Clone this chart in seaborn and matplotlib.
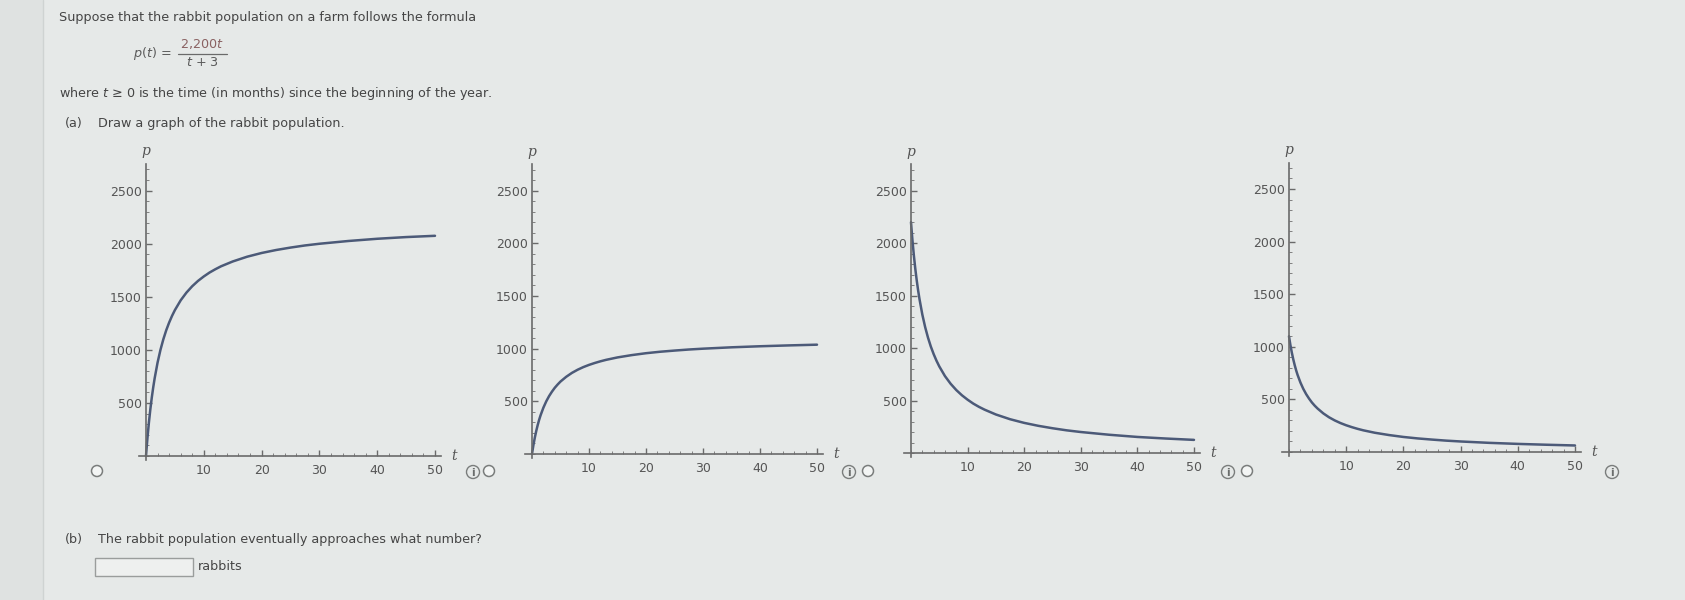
import numpy as np
import pandas as pd
import seaborn as sns
import matplotlib
matplotlib.use("Agg")
import matplotlib.pyplot as plt
from matplotlib.patches import Circle, Rectangle
from matplotlib.transforms import IdentityTransform
from matplotlib.ticker import MultipleLocator

# ---- data ----
t_vals = [0, 0.1, 0.25, 0.5, 0.75, 1, 1.25, 1.5, 2, 2.5, 3, 3.5, 4, 4.5, 5, 6, 7, 8, 9, 10,
          11, 12, 13, 15, 17.5, 20, 22.5, 25, 27.5, 30, 35, 40, 45, 50]
p_graph1 = [0, 71, 169, 314, 440, 550, 647, 733, 880, 1000, 1100, 1185, 1257, 1320, 1375,
            1467, 1540, 1600, 1650, 1692, 1729, 1760, 1788, 1833, 1878, 1913, 1941, 1964,
            1984, 2000, 2026, 2047, 2063, 2075]
p_graph2 = [0, 35, 85, 157, 220, 275, 324, 367, 440, 500, 550, 592, 629, 660, 688, 733, 770,
            800, 825, 846, 864, 880, 894, 917, 939, 957, 971, 982, 992, 1000, 1013, 1023,
            1031, 1038]
p_graph3 = [2200, 2129, 2031, 1886, 1760, 1650, 1553, 1467, 1320, 1200, 1100, 1015, 943, 880,
            825, 733, 660, 600, 550, 508, 471, 440, 413, 367, 322, 287, 259, 236, 216, 200,
            174, 153, 138, 125]
p_graph4 = [1100, 1065, 1015, 943, 880, 825, 776, 733, 660, 600, 550, 508, 471, 440, 413,
            367, 330, 300, 275, 254, 236, 220, 206, 183, 161, 143, 129, 118, 108, 100, 87,
            77, 69, 62]
x_ticks = [10, 20, 30, 40, 50]
y_ticks = [500, 1000, 1500, 2000, 2500]
series = [p_graph1, p_graph2, p_graph3, p_graph4]

W, H = 1685, 600
BG = "#e6e9e8"
TXT = "#454545"
AX = "#6a6a6a"
LINE = "#4c5a78"
FS = 9.2

sns.set_theme(style="white")
plt.rcParams["font.family"] = ["DejaVu Sans"]
plt.rcParams["mathtext.fontset"] = "dejavusans"

fig = plt.figure(figsize=(W / 100, H / 100), dpi=100, facecolor=BG)

# left darker strip (page margin in photo)
fig.add_artist(Rectangle((0, 0), 43, H, transform=IdentityTransform(),
                         facecolor="#dfe2e1", edgecolor="none", zorder=0))
fig.add_artist(plt.Line2D([43, 43], [0, H], transform=IdentityTransform(),
                          color="#cfd3d2", lw=1, zorder=0))

def px(x, y):
    return x / W, 1 - y / H

# question text
fig.text(*px(59, 18), "Suppose that the rabbit population on a farm follows the formula",
         fontsize=FS, color=TXT, va="center", ha="left")
fig.text(*px(133, 54), "$p(t)$ =", fontsize=FS, color="#5a5a5a", va="center", ha="left")
fig.text(*px(202, 44), "2,200$t$", fontsize=FS, color="#8a6262", va="center", ha="center")
fig.text(*px(202, 63), "$t$ + 3", fontsize=FS, color="#5a5a5a", va="center", ha="center")
fig.add_artist(plt.Line2D([178 / W, 227 / W], [1 - 53.5 / H, 1 - 53.5 / H],
                          color="#6a6a6a", lw=0.9))
fig.text(*px(59, 93), "where $t$ ≥ 0 is the time (in months) since the beginning of the year.",
         fontsize=FS, color=TXT, va="center", ha="left")
fig.text(*px(65, 123), "(a)", fontsize=FS, color=TXT, va="center", ha="left")
fig.text(*px(98, 123), "Draw a graph of the rabbit population.", fontsize=FS, color=TXT,
         va="center", ha="left")
fig.text(*px(65, 540), "(b)", fontsize=FS, color=TXT, va="center", ha="left")
fig.text(*px(98, 540), "The rabbit population eventually approaches what number?",
         fontsize=FS, color=TXT, va="center", ha="left")
fig.add_artist(Rectangle((95, H - 576), 98, 18, transform=IdentityTransform(),
                         facecolor="#eef0ef", edgecolor="#9a9d9c", lw=1))
fig.text(*px(198, 566), "rabbits", fontsize=FS, color=TXT, va="center", ha="left")

# panel pixel geometry: (x at t=0, x at t=50, y at p=0, y at p=2500)
panels = [(146, 435, 456, 190.7), (532, 817, 454, 190.7),
          (911, 1194, 453, 190.7), (1289, 1575, 452, 189)]
XMIN, XMAX = -1.2, 51
YMIN, YMAX = -40, 2750

for (x0, x50, y0, y25), vals in zip(panels, series):
    sx = (x50 - x0) / 50.0
    sy = (y0 - y25) / 2500.0
    left = x0 + XMIN * sx
    right = x0 + XMAX * sx
    top = y0 - YMAX * sy
    bot = y0 - YMIN * sy
    ax = fig.add_axes([left / W, (H - bot) / H, (right - left) / W, (bot - top) / H])
    ax.set_facecolor("none")
    df = pd.DataFrame({"t": t_vals, "p": vals})
    sns.lineplot(data=df, x="t", y="p", ax=ax, color=LINE, lw=1.8, sort=False,
                 estimator=None)
    ax.set_xlim(XMIN, XMAX)
    ax.set_ylim(YMIN, YMAX)
    for s in ["top", "right"]:
        ax.spines[s].set_visible(False)
    ax.spines["left"].set_position(("data", 0))
    ax.spines["bottom"].set_position(("data", 0))
    for s in ["left", "bottom"]:
        ax.spines[s].set_color(AX)
        ax.spines[s].set_linewidth(1.2)
    ax.set_xticks(x_ticks)
    ax.set_yticks(y_ticks)
    ax.xaxis.set_minor_locator(MultipleLocator(2))
    ax.yaxis.set_minor_locator(MultipleLocator(100))
    ax.tick_params(axis="both", which="both", bottom=True, left=True, top=False,
                   right=False)
    ax.tick_params(axis="both", which="major", direction="in", length=4.5, width=1,
                   color=AX, labelcolor="#555555", labelsize=9)
    ax.tick_params(axis="both", which="minor", direction="in", length=2.0, width=0.7,
                   color="#808080")
    ax.tick_params(axis="x", which="major", pad=6)
    ax.tick_params(axis="y", which="major", pad=3)
    ax.set_xlabel("")
    ax.set_ylabel("")
    ax.text(0, 2870, "p", fontsize=10, fontfamily="DejaVu Serif", style="italic",
            color="#555555", ha="center", va="center", clip_on=False)
    ax.text(53.3, 0, "t", fontsize=10, fontfamily="DejaVu Serif", style="italic",
            color="#555555", ha="center", va="center", clip_on=False)

# radio buttons and info icons
radios = [(97, 471), (489, 471), (868, 471), (1247, 471)]
infos = [(473, 472), (849, 472), (1228, 472), (1612, 472)]
for (x, y) in radios:
    fig.add_artist(Circle((x, H - y), 5.5, transform=IdentityTransform(),
                          facecolor="#f3f5f4", edgecolor="#7a7d7c", lw=1.1))
for (x, y) in infos:
    fig.add_artist(Circle((x, H - y), 6.5, transform=IdentityTransform(),
                          facecolor="none", edgecolor="#7a7d7c", lw=1.0))
    fig.text(x / W, 1 - (y + 0.5) / H, "i", fontsize=7.5, color="#6a6d6c",
             ha="center", va="center", fontweight="bold")

fig.savefig("out.png", dpi=100, facecolor=BG)
